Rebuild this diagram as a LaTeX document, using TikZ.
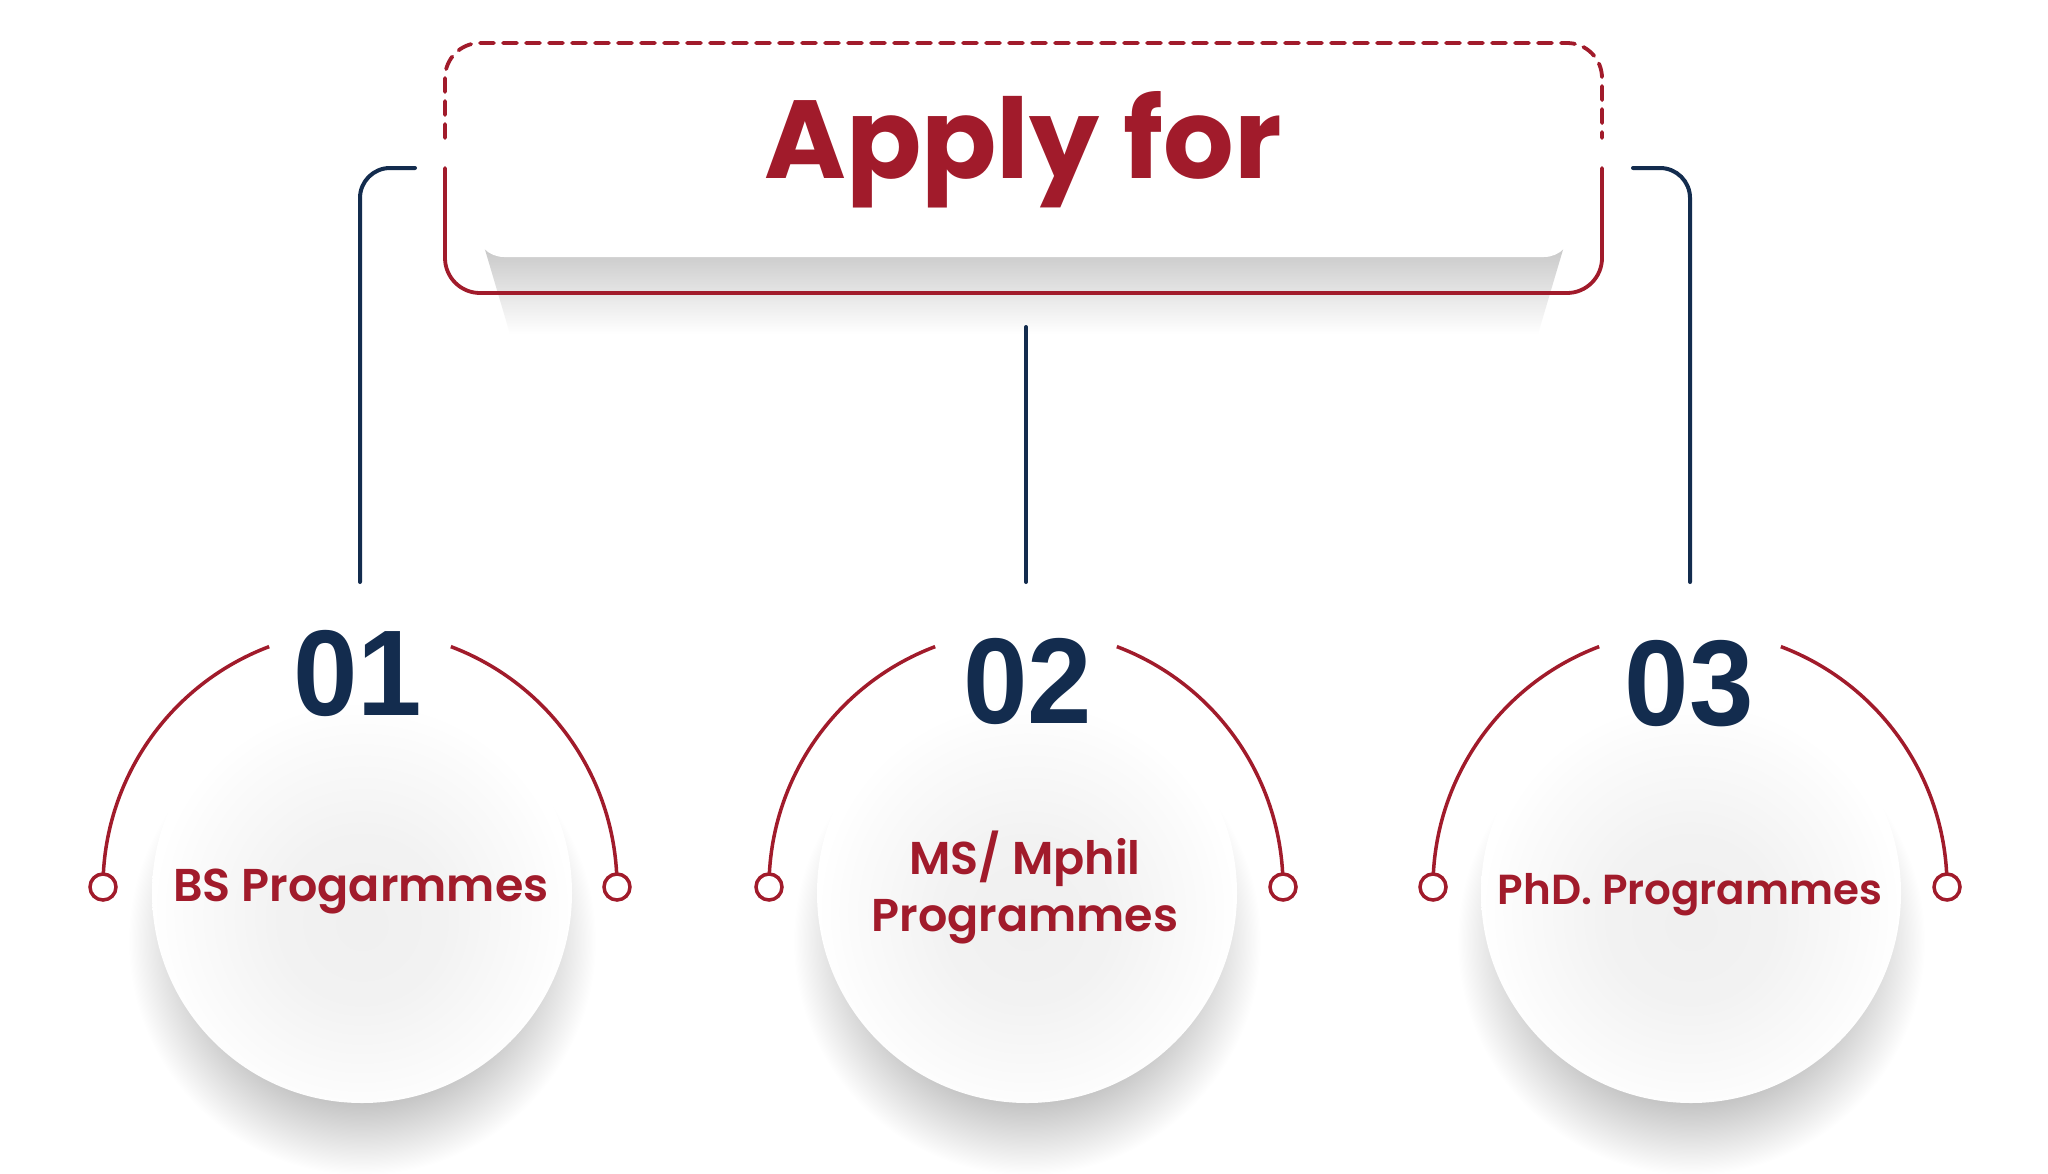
\documentclass[tikz,border=0pt]{standalone}
\usepackage{fontspec}
\newfontfamily\popfont{Poppins}
\IfFontExistsTF{Poppins SemiBold}{\newfontfamily\poplabel{Poppins SemiBold}}{\newfontfamily\poplabel{Poppins}[UprightFont=*-Bold]}
\newfontfamily\numfont{Liberation Sans}[FakeStretch=0.95]
\usetikzlibrary{calc}
\definecolor{brandred}{HTML}{A11B2B}
\definecolor{brandnavy}{HTML}{132C4E}
\pgfdeclareradialshading{diskfill}{\pgfpoint{0bp}{-4bp}}{color(0bp)=(black!6); color(10bp)=(black!5); color(21bp)=(black!1.5); color(25bp)=(white); color(50bp)=(white)}
\pgfdeclareradialshading{diskshadow}{\pgfpoint{0bp}{0bp}}{color(0bp)=(black!32); color(16bp)=(black!27); color(25bp)=(white); color(50bp)=(white)}
\tikzset{
  navyline/.style={draw=brandnavy, line width=2pt, line cap=round},
  boxline/.style={draw=brandred, line width=1.9pt, line cap=round},
  boxdash/.style={boxline, dash pattern=on 7pt off 4.5pt},
  arcline/.style={draw=brandred, line width=1.75pt},
  enddot/.style={draw=brandred, fill=white, line width=1.75pt},
  numtext/.style={text=brandnavy, font=\numfont\bfseries\fontsize{61}{70}\selectfont, inner sep=0pt, anchor=base},
  labeltext/.style={text=brandred, font=\poplabel\fontsize{23}{28.5}\selectfont, inner sep=0pt, align=center},
  titletext/.style={text=brandred, font=\popfont\bfseries\fontsize{55.5}{60}\selectfont, inner sep=0pt, anchor=base},
}
\begin{document}
\begin{tikzpicture}[x=0.5pt,y=-0.5pt]
\useasboundingbox (0,0) rectangle (2048,1173);
\fill[white] (0,0) rectangle (2048,1173);

% ---------- title box ----------
\shade[top color=black!27, middle color=black!15, bottom color=white]
  (478,226) -- (1570,226) -- (1538,334) -- (510,334) -- cycle;
\fill[white, rounded corners=14pt] (476,90) rectangle (1572,257);
\draw[boxdash, rounded corners=17.5pt] (445,138) -- (445,43) -- (1602,43) -- (1602,138);
\draw[boxline, rounded corners=17.5pt] (445,168) -- (445,293) -- (1602,293) -- (1602,168);
\node[titletext] (title) at (1023,178) {Apply for};

% ---------- centres ----------
\coordinate (c1) at (360,887);
\coordinate (c2) at (1026,887);
\coordinate (c3) at (1690,887);

% ---------- disks ----------
\foreach \c/\dx in {c1/2, c2/1, c3/1}{
  \shade[shading=diskshadow] ($(\c)+(\dx,54)$) circle[radius=234];
  \shade[shading=diskfill] ($(\c)+(\dx,6)$) circle[radius=210];
}

% ---------- connectors ----------
\coordinate (l1) at (415,168);
\coordinate (b1) at (360,582);
\coordinate (m1) at (1026,327);
\coordinate (b2) at (1026,582);
\coordinate (r1) at (1633,168);
\coordinate (b3) at (1690,582);
\draw[navyline, rounded corners=15pt] (l1) -| (b1);
\draw[navyline] (m1) -- (b2);
\draw[navyline, rounded corners=15pt] (r1) -| (b3);

% ---------- arcs and dots ----------
\foreach \c in {c1,c2,c3}{
  \draw[arcline] ($(\c)+(180:257)$) arc[start angle=180, end angle=249.3, radius=257];
  \draw[arcline] ($(\c)+(290.7:257)$) arc[start angle=290.7, end angle=360, radius=257];
  \draw[enddot] ($(\c)+(-257,0)$) circle[radius=13];
  \draw[enddot] ($(\c)+(257,0)$) circle[radius=13];
}

% ---------- numbers ----------
\node[numtext] (n1) at (358,715) {01};
\node[numtext] (n2) at (1028,723) {02};
\node[numtext] (n3) at (1689,725) {03};

% ---------- labels ----------
\node[labeltext, anchor=base] (t1) at (361,901) {BS Progarmmes};
\node[labeltext] (t2) at (1025,887) {MS/ Mphil\\Programmes};
\node[labeltext, anchor=base, font=\poplabel\fontsize{21}{28.5}\selectfont] (t3) at (1690,904) {PhD. Programmes};
\end{tikzpicture}
\end{document}
